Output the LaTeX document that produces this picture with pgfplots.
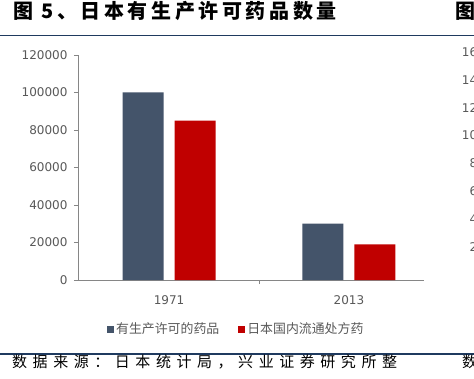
\documentclass[border=0pt]{standalone}
\usepackage{fontspec}
\usepackage{pgfplots}
\pgfplotsset{compat=1.18}
\setmainfont{DejaVu Sans}
\newfontfamily\cjk{Noto Sans CJK SC}
\newfontfamily\cjktitle{Noto Sans CJK SC}[LetterSpace=18]
\newfontfamily\cjksrc{Noto Sans CJK SC}[LetterSpace=37]
\definecolor{barA}{HTML}{44546A}
\definecolor{barB}{HTML}{C00000}
\definecolor{axisgray}{HTML}{868686}
\definecolor{txtgray}{HTML}{595959}
\definecolor{navy}{HTML}{1F3A5F}
\begin{document}
\begin{tikzpicture}[x=1pt,y=1pt]
\path[use as bounding box] (0,0) rectangle (474,378);
\clip (0,0) rectangle (474,378);
\fill[white] (0,0) rectangle (474,378);
% header / footer
\node[anchor=base west, inner sep=0] at (13,359) {\cjktitle\bfseries\fontsize{20}{22}\selectfont 图 5、日本有生产许可药品数量};
\node[anchor=base west, inner sep=0] at (455,359) {\cjktitle\bfseries\fontsize{20}{22}\selectfont 图};
\draw[navy, line width=1.8pt] (0,342.5) -- (474,342.5);
\draw[navy, line width=1.8pt] (0,24) -- (474,24);
\node[anchor=base west, inner sep=0] at (12,11) {\cjksrc\fontsize{15}{17}\selectfont 数据来源：日本统计局，兴业证券研究所整};
\node[anchor=base west, inner sep=0] at (462,11) {\cjksrc\fontsize{15}{17}\selectfont 数};
% partial neighbouring chart tick labels
\foreach \v/\yy in {160000/52,140000/80,120000/108,100000/135,80000/163,60000/191,40000/219,20000/247}{
  \node[anchor=east, inner sep=0, text=txtgray, font=\fontsize{12}{14}\selectfont] at (508,378-\yy) {\v};
}
\begin{axis}[
  at={(78pt,98pt)}, anchor=south west,
  width=346pt, height=225pt, scale only axis,
  xmin=-0.506, xmax=1.417, ymin=0, ymax=120000,
  axis x line*=bottom, axis y line*=left,
  axis line style={axisgray, line width=0.8pt},
  tick align=outside, major tick length=4pt,
  tick style={axisgray, line width=0.8pt},
  tick label style={font=\fontsize{12}{14}\selectfont, text=txtgray},
  scaled y ticks=false,
  ytick={0,20000,40000,60000,80000,100000,120000},
  yticklabels={0,20000,40000,60000,80000,100000,120000},
  y tick label style={xshift=-3pt},
  xtick={0.5}, xticklabels={},
  extra x ticks={0,1}, extra x tick labels={1971,2013},
  extra x tick style={major tick length=0pt, xticklabel style={text=txtgray, font=\fontsize{12}{14}\selectfont, yshift=-12pt}},
  ybar=11pt, bar width=41pt,
  legend columns=2,
  legend style={draw=none, fill=none, at={(0.075,-0.218)}, anchor=west,
    font=\cjk\fontsize{12.9}{14}\selectfont, text=txtgray,
    /tikz/every even column/.append style={column sep=17pt}},
  legend image code/.code={\fill[#1] (0pt,-3.5pt) rectangle (7pt,3.5pt);},
]
\addplot[fill=barA, draw=none] coordinates {(0,100000) (1,30000)};
\addplot[fill=barB, draw=none] coordinates {(0,85000) (1,19000)};
\legend{有生产许可的药品,日本国内流通处方药}
\end{axis}
\end{tikzpicture}
\end{document}
